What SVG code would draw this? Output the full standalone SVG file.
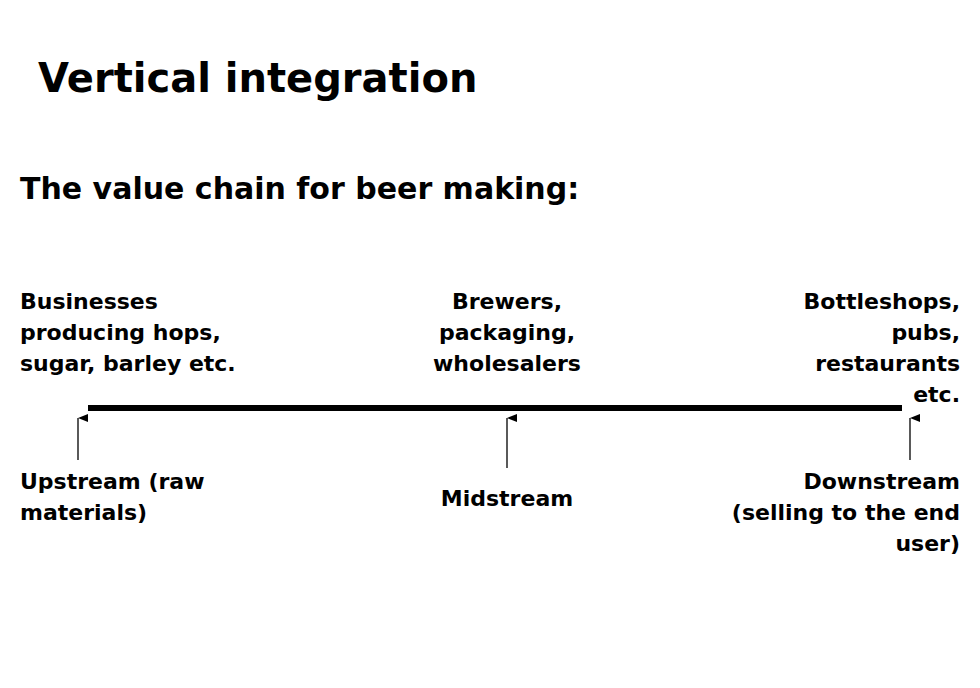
<svg xmlns="http://www.w3.org/2000/svg" width="980" height="688" viewBox="0 0 980 688">
<style>
text{font-family:"DejaVu Sans","Liberation Sans",sans-serif;font-weight:bold;fill:#000}
.t{font-size:22px}
.r{text-anchor:end}.m{text-anchor:middle}
</style>
<defs><marker id="a" markerWidth="8" markerHeight="10" refX="4" refY="0" orient="auto-start-reverse" markerUnits="userSpaceOnUse" viewBox="0 0 8 10"><path d="M0,10 L4,0 L8,10 Z"/></marker></defs>
<rect width="980" height="688" fill="#fff"/>
<text x="38" y="92" font-size="40">Vertical integration</text>
<text x="20" y="199" font-size="30">The value chain for beer making:</text>
<g id="upstream-top"><text class="t" x="20" y="309">Businesses</text><text class="t" x="20" y="340">producing hops,</text><text class="t" x="20" y="371">sugar, barley etc.</text></g>
<g id="mid-top"><text class="t m" x="507" y="309">Brewers,</text><text class="t m" x="507" y="340">packaging,</text><text class="t m" x="507" y="371">wholesalers</text></g>
<g id="down-top"><text class="t r" x="960" y="309">Bottleshops,</text><text class="t r" x="960" y="340">pubs,</text><text class="t r" x="960" y="371">restaurants</text><text class="t r" x="960" y="402">etc.</text></g>
<g id="connectors">
<line x1="88" y1="408" x2="902" y2="408" stroke="#000" stroke-width="6"/>
<line x1="78" y1="460" x2="78" y2="418" stroke="#000" stroke-width="1.3" marker-end="url(#a)"/>
<line x1="507" y1="468" x2="507" y2="418" stroke="#000" stroke-width="1.3" marker-end="url(#a)"/>
<line x1="910" y1="460" x2="910" y2="418" stroke="#000" stroke-width="1.3" marker-end="url(#a)"/>
</g>
<g id="upstream"><text class="t" x="20" y="489">Upstream (raw</text><text class="t" x="20" y="520">materials)</text></g>
<g id="midstream"><text class="t m" x="507" y="506">Midstream</text></g>
<g id="downstream"><text class="t r" x="960" y="489">Downstream</text><text class="t r" x="960" y="520">(selling to the end</text><text class="t r" x="960" y="551">user)</text></g>
</svg>
